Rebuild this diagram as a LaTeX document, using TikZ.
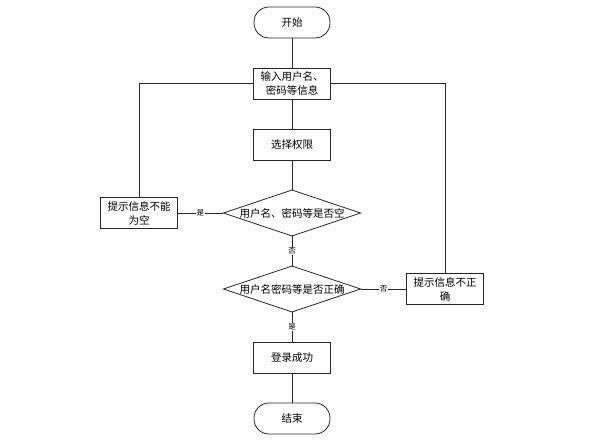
\documentclass[tikz,border=0pt]{standalone}
\usepackage{fontspec}
\newfontfamily\cjk{Noto Sans CJK SC}
\usepackage{tikz}
\usetikzlibrary{positioning, shapes.geometric}
\tikzset{
  terminal/.style={draw, rounded corners=15pt, align=center, minimum width=76pt,
    minimum height=31pt, font=\cjk\fontsize{10.5}{14}\selectfont},
  process/.style={draw, align=center, minimum width=77pt, minimum height=31pt,
    inner sep=1pt, font=\cjk\fontsize{10.5}{14}\selectfont},
  decision/.style={draw, diamond, aspect=2.98, inner sep=0pt, minimum width=137pt,
    minimum height=46pt, font=\cjk\fontsize{10.5}{14}\selectfont},
  link/.style={draw=black!85, line width=0.8pt},
  tag/.style={fill=white, inner sep=1pt, font=\cjk\fontsize{7.5}{9}\selectfont}
}
\begin{document}
\begin{tikzpicture}[x=1pt, y=-1pt, node distance=30pt and 46pt, every node/.append style={line width=0.8pt, draw=black!85, outer sep=0pt}]
  \useasboundingbox (0,0) rectangle (590,442);
  \node[terminal] (start) at (292,22.5) {开始};
  \node[process, below=of start] (input) {输入用户名、\\密码等信息};
  \node[process, below=of input] (role) {选择权限};
  \node[decision, below=of role] (empty) {用户名、密码等是否空};
  \node[decision, below=of empty] (valid) {用户名密码等是否正确};
  \node[process, left=of empty] (emptymsg) {提示信息不能\\为空};
  \node[process, right=of valid] (wrongmsg) {提示信息不正\\确};
  \node[process, below=of valid] (ok) {登录成功};
  \node[terminal, below=of ok] (stop) {结束};
  \draw[link] (start) -- (input);
  \draw[link] (input) -- (role);
  \draw[link] (role) -- (empty);
  \draw[link] (empty) -- node[tag, draw=none]{是} (emptymsg);
  \draw[link] (empty) -- node[tag, draw=none]{否} (valid);
  \draw[link] (valid) -- node[tag, draw=none]{否} (wrongmsg);
  \draw[link] (valid) -- node[tag, draw=none]{是} (ok);
  \draw[link] (ok) -- (stop);
  \draw[link] (emptymsg.north) |- (input.west);
  \draw[link] (wrongmsg.north) |- (input.east);
\end{tikzpicture}
\end{document}
